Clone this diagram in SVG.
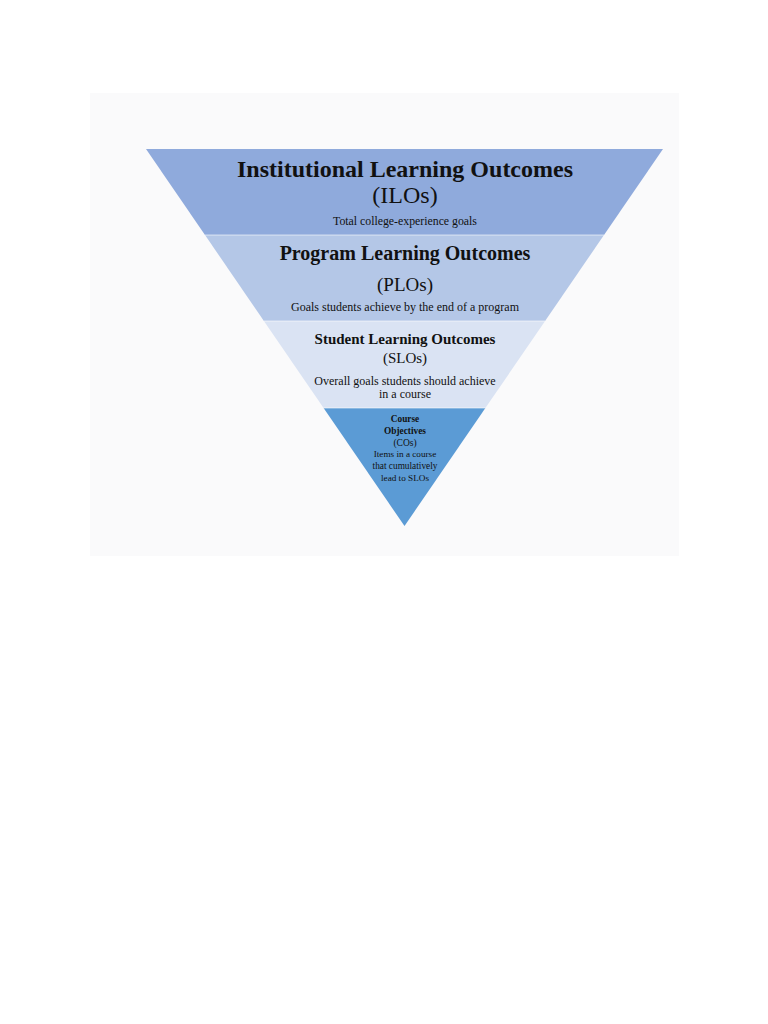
<svg xmlns="http://www.w3.org/2000/svg" width="768" height="1024" viewBox="0 0 768 1024">
  <style>
    text { font-family: "Liberation Serif", "Times New Roman", serif; fill: #111; text-anchor: middle; }
    .b { font-weight: bold; }
    .sep { stroke: #ffffff; stroke-opacity: 0.6; stroke-width: 1; }
  </style>
  <rect x="0" y="0" width="768" height="1024" fill="#ffffff"/>
  <rect id="panel" x="90" y="93" width="589" height="463" fill="#fafafb"/>

  <g id="ilo">
    <polygon points="146,149 663,149 604,235 205,235" fill="#8faadc"/>
    <text class="b" x="405" y="177" font-size="24">Institutional Learning Outcomes</text>
    <text x="405" y="203" font-size="24">(ILOs)</text>
    <text x="405" y="225" font-size="11.8">Total college-experience goals</text>
  </g>

  <g id="plo">
    <polygon points="205,235 604,235 545.1,321 263.9,321" fill="#b4c7e7"/>
    <text class="b" x="405" y="260" font-size="20">Program Learning Outcomes</text>
    <text x="405" y="291" font-size="19">(PLOs)</text>
    <text x="405" y="311" font-size="12">Goals students achieve by the end of a program</text>
  </g>

  <g id="slo">
    <polygon points="263.9,321 545.1,321 485.4,408 323.6,408" fill="#dae3f3"/>
    <text class="b" x="405" y="344" font-size="15">Student Learning Outcomes</text>
    <text x="405" y="363" font-size="15">(SLOs)</text>
    <text x="405" y="385" font-size="12">Overall goals students should achieve</text>
    <text x="405" y="398" font-size="12">in a course</text>
  </g>

  <g id="co">
    <polygon points="323.6,408 485.4,408 404.5,526" fill="#5b9bd5"/>
    <text class="b" x="405" y="422" font-size="9.3">Course</text>
    <text class="b" x="405" y="434" font-size="9.3">Objectives</text>
    <text x="405" y="446" font-size="9.5">(COs)</text>
    <text x="405" y="457" font-size="9.2">Items in a course</text>
    <text x="405" y="469" font-size="9.3">that cumulatively</text>
    <text x="405" y="481" font-size="9.2">lead to SLOs</text>
  </g>

  <g id="separators">
    <line class="sep" x1="205" y1="235" x2="604" y2="235"/>
    <line class="sep" x1="263.9" y1="321" x2="545.1" y2="321"/>
    <line class="sep" x1="323.6" y1="408" x2="485.4" y2="408"/>
  </g>
</svg>
